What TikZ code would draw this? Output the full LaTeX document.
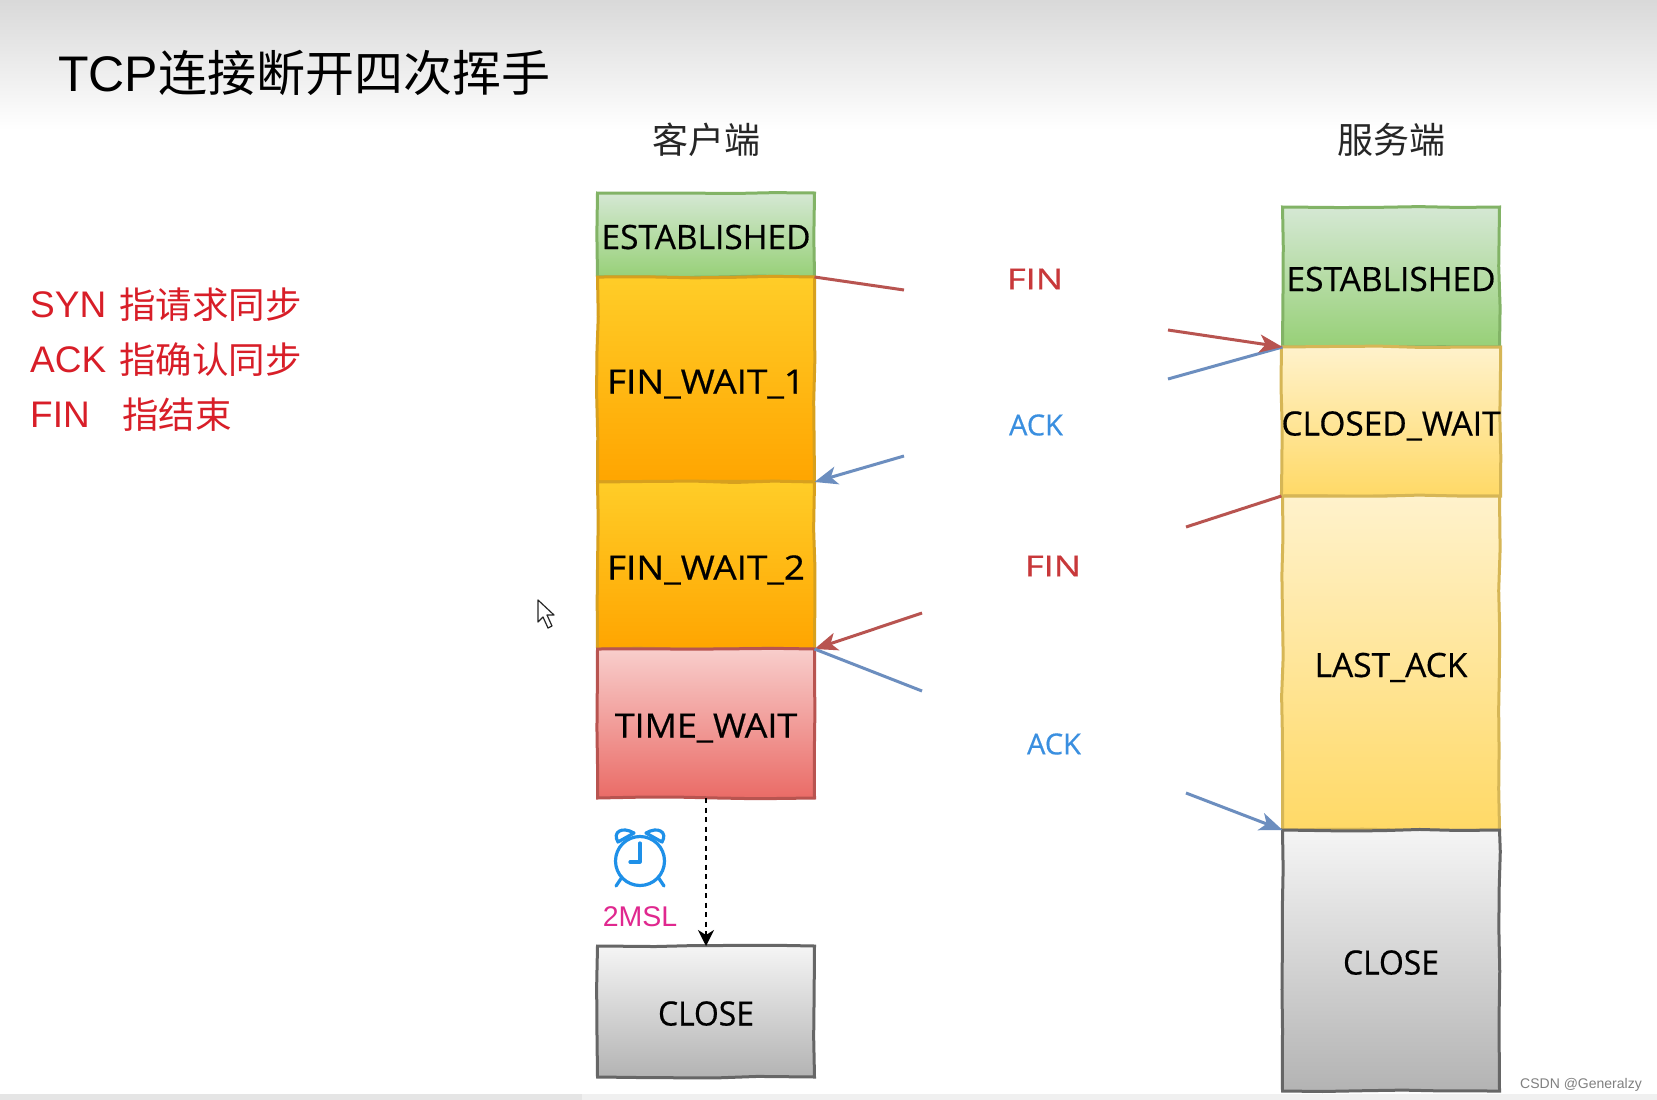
\documentclass[tikz,border=0pt]{standalone}
\usepackage{fontspec}
\usetikzlibrary{arrows.meta,decorations.pathmorphing}
\setmainfont{Liberation Sans}
\newfontfamily\cjk{Noto Sans CJK SC}
\newfontfamily\lab[FakeBold=0.5]{Open Sans}
\definecolor{redline}{HTML}{B85450}
\definecolor{blueline}{HTML}{6C8EBF}
\definecolor{finred}{HTML}{C8383A}
\definecolor{ackblue}{HTML}{3A8FE0}
\definecolor{legendred}{HTML}{D81E28}
\definecolor{clockblue}{HTML}{1E90E8}
\definecolor{HMag}{HTML}{E0288F}
\definecolor{HGreenB}{HTML}{82B366}\definecolor{HGreenT}{HTML}{D5E8D4}\definecolor{HGreenE}{HTML}{97D077}
\definecolor{HOrB}{HTML}{D7A01E}\definecolor{HOrT}{HTML}{FFCD28}\definecolor{HOrE}{HTML}{FFA500}
\definecolor{HYeB}{HTML}{D6B656}\definecolor{HYeT}{HTML}{FFF2CC}\definecolor{HYeE}{HTML}{FFD966}
\definecolor{HReB}{HTML}{B85450}\definecolor{HReT}{HTML}{F8CECC}\definecolor{HReE}{HTML}{EA6B66}
\definecolor{HGrB}{HTML}{666666}\definecolor{HGrT}{HTML}{F5F5F5}\definecolor{HGrE}{HTML}{B3B3B3}
\tikzset{
  x=1pt,y=-1pt,
  state/.style={draw,line width=3pt,inner sep=0pt,outer sep=0pt,minimum width=217pt,
    decorate,decoration={random steps,segment length=40pt,amplitude=0.9pt},
    font={\lab\fontsize{33.5}{33.5}\selectfont},text=black,text height=28pt,text depth=0pt},
  greenst/.style={state,draw=HGreenB,top color=HGreenT,bottom color=HGreenE},
  orangest/.style={state,draw=HOrB,top color=HOrT,bottom color=HOrE},
  yellowst/.style={state,draw=HYeB,top color=HYeT,bottom color=HYeE},
  redst/.style={state,draw=HReB,top color=HReT,bottom color=HReE},
  grayst/.style={state,draw=HGrB,top color=HGrT,bottom color=HGrE},
  head/.style={font={\cjk\fontsize{36}{36}\selectfont},text=black!85},
  msg/.style={font={\lab\fontsize{29}{29}\selectfont}},
  link/.style={line width=3pt},
  tip/.style={-{Stealth[length=23pt,width=18pt,inset=6pt]}},
  legend/.style={anchor=west,text=legendred,inner sep=0pt},
}
\begin{document}
\begin{tikzpicture}
\pgfmathsetseed{7}
\useasboundingbox (0,0) rectangle (1657,1100);
% slide background
\fill[white] (0,0) rectangle (1657,1100);
\shade[top color=black!15,bottom color=white] (0,0) rectangle (1657,130);
\fill[black!6] (0,1094) rectangle (1657,1100);
\fill[black!10] (0,1094) rectangle (582,1100);

% title and legend
\node[anchor=west,inner sep=0pt] (title) at (58,73) {{\fontsize{50}{50}\selectfont TCP}{\cjk\fontsize{49}{49}\selectfont 连接断开四次挥手}};
\node[legend] (leg1) at (30,305) {\fontsize{37}{37}\selectfont SYN};
\node[legend] (leg1c) at (119,305) {\cjk\fontsize{36.5}{37}\selectfont 指请求同步};
\node[legend] (leg2) at (30,360) {\fontsize{37}{37}\selectfont ACK};
\node[legend] (leg2c) at (119,360) {\cjk\fontsize{36.5}{37}\selectfont 指确认同步};
\node[legend] (leg3) at (30,415) {\fontsize{37}{37}\selectfont FIN};
\node[legend] (leg3c) at (122,415) {\cjk\fontsize{36.5}{37}\selectfont 指结束};

% column headers
\node[head] (hc) at (706,140) {客户端};
\node[head] (hs) at (1391,140) {服务端};

% client column
\node[greenst,minimum height=84pt] (cest) at (706,235) {ESTABLISHED};
\node[orangest,minimum height=205pt] (cw1) at (706,379.5) {\scalebox{1.1}[1]{FIN\_WAIT\_1}};
\node[orangest,minimum height=167pt] (cw2) at (706,565.5) {\scalebox{1.1}[1]{FIN\_WAIT\_2}};
\node[redst,minimum height=149pt] (ctw) at (706,723.5) {\scalebox{1.07}[1]{TIME\_WAIT}};
\node[grayst,minimum height=131pt] (ccl) at (706,1011.5) {\scalebox{0.95}[1]{CLOSE}};

% server column
\node[greenst,minimum height=140pt] (sest) at (1391,277) {ESTABLISHED};
\node[yellowst,minimum height=149pt] (scw) at (1391,421.5) {CLOSED\_WAIT};
\node[yellowst,minimum height=334pt] (sla) at (1391,663) {LAST\_ACK};
\node[grayst,minimum height=261pt] (scl) at (1391,960.5) {\scalebox{0.95}[1]{CLOSE}};

% message labels
\node[msg,text=finred] (m1) at (1035,279) {\scalebox{1.25}[1]{FIN}};
\node[msg,text=ackblue] (m2) at (1036,425) {ACK};
\node[msg,text=finred] (m3) at (1053,566) {\scalebox{1.25}[1]{FIN}};
\node[msg,text=ackblue] (m4) at (1054,744) {ACK};

% free ends of the interrupted connectors
\coordinate (a1) at (904,290);   \coordinate (a2) at (1168,330);
\coordinate (b1) at (1168,379);  \coordinate (b2) at (904,456);
\coordinate (c1) at (1186,527);  \coordinate (c2) at (922,613);
\coordinate (d1) at (922,691);   \coordinate (d2) at (1186,793);

\draw[link,redline] (cest.south east) -- (a1);
\draw[link,blueline] (sest.south west) -- (b1);
\draw[link,redline,tip] (a2) -- (sest.south west);
\draw[link,blueline,tip] (b2) -- (cw1.south east);
\draw[link,redline] (scw.south west) -- (c1);
\draw[link,redline,tip] (c2) -- (cw2.south east);
\draw[link,blueline] (ctw.north east) -- (d1);
\draw[link,blueline,tip] (d2) -- (sla.south west);

% timer
\draw[line width=1.9pt,dash pattern=on 5pt off 4.5pt,-{Stealth[length=16pt,width=16pt,inset=5pt]}] (ctw.south) -- (ccl.north);
\begin{scope}[clockblue,line width=3.2pt,line cap=round,line join=round]
  \draw (640,861) circle[radius=24.5];
  \draw (640,843) -- (640,862) -- (630,862);
  \draw (618,842) .. controls (612,832) and (622,826) .. (634,833) -- cycle;
  \draw (646,833) .. controls (658,826) and (668,832) .. (662,842) -- cycle;
  \draw (622,877) -- (616,886);
  \draw (658,877) -- (664,886);
\end{scope}
\node[text=HMag,font=\fontsize{28.5}{28.5}\selectfont] (msl) at (640,917) {2MSL};

% pointer
\draw[fill=white,draw=black!85,line width=1.2pt,line join=round] (538,600) -- (538,622) -- (543,617) -- (548,628) -- (552,626) -- (547,615) -- (554,615) -- cycle;

% watermark
\node[anchor=east,inner sep=0pt,text=black!50,font=\fontsize{14}{14}\selectfont] (wm) at (1642,1085) {CSDN @Generalzy};
\end{tikzpicture}
\end{document}
